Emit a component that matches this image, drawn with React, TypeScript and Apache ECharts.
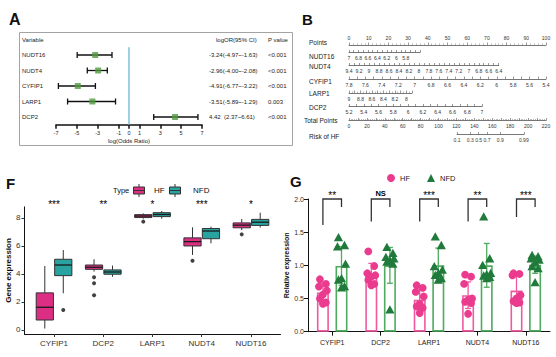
import { useEffect, useRef } from 'react';
import * as echarts from 'echarts';

const FONT = "'Liberation Sans', Arial, Helvetica, sans-serif";

// ---------------- Panel A: forest plot ----------------
const forestVars = ['NUDT16', 'NUDT4', 'CYFIP1', 'LARP1', 'DCP2'];
const forestLogOR = [-3.24, -2.96, -4.91, -3.51, 4.42];
const forestLow = [-4.97, -4.0, -6.77, -5.89, 2.37];
const forestHigh = [-1.63, -2.08, -3.22, -1.29, 6.61];
const forestPValues = ['<0.001', '<0.001', '<0.001', '0.003', '<0.001'];
const forestTicks = [-7, -5, -3, -1, 0, 1, 3, 5, 7];

// ---------------- Panel B: nomogram ----------------
const pointsTicks = [0, 10, 20, 30, 40, 50, 60, 70, 80, 90, 100];
const nudt16Ticks = [7, 6.8, 6.6, 6.4, 6.2, 6, 5.8];
const nudt4Ticks = [9.4, 9.2, 9, 8.8, 8.6, 8.4, 8.2, 8, 7.8, 7.6, 7.4, 7.2, 7, 6.8, 6.6, 6.4];
const cyfip1Ticks = [7.8, 7.6, 7.4, 7.2, 7, 6.8, 6.6, 6.4, 6.2, 6, 5.8, 5.6, 5.4];
const larp1Ticks = [9, 8.8, 8.6, 8.4, 8.2, 8];
const dcp2Ticks = [5.2, 5.4, 5.6, 5.8, 6, 6.2, 6.4, 6.6, 6.8, 7];
const totalPointsTicks = [0, 20, 40, 60, 80, 100, 120, 140, 160, 180, 200, 220];
const riskTicks = [0.1, 0.3, 0.5, 0.7, 0.9, 0.99];
const nomoVarNames = ['NUDT16', 'NUDT4', 'CYFIP1', 'LARP1', 'DCP2'];
const nomoVarTicks = [nudt16Ticks, nudt4Ticks, cyfip1Ticks, larp1Ticks, dcp2Ticks];
const nomoVarMin = [5.5, 6.4, 5.4, 7.9, 5.2];
const nomoVarMax = [7, 9.4, 7.8, 9, 7];
const nomoVarDecreasing = [true, true, true, true, false];
const nomoVarMaxPoints = [36, 76, 100, 32, 67.5];
const totalPointsMax = 220;
const riskTotalPointsRange = [120.7, 195.2];

// ---------------- Panel F: boxplots ----------------
const fGenes = ['CYFIP1', 'DCP2', 'LARP1', 'NUDT4', 'NUDT16'];
const fGroups = ['HF', 'NFD'];
// [min, Q1, median, Q3, max]
const fHFStats = [
  [0.1, 0.71, 1.62, 2.65, 4.57],
  [4.17, 4.33, 4.48, 4.64, 5.05],
  [7.95, 8.03, 8.14, 8.24, 8.33],
  [5.36, 6.0, 6.31, 6.58, 7.33],
  [7.14, 7.3, 7.49, 7.65, 7.93],
];
const fNFDStats = [
  [2.62, 3.88, 4.64, 5.05, 5.71],
  [3.8, 3.98, 4.14, 4.29, 4.6],
  [7.95, 8.1, 8.25, 8.38, 8.5],
  [6.19, 6.52, 7.07, 7.25, 7.38],
  [7.32, 7.47, 7.7, 7.9, 8.38],
];
const fHFOutliers = [[], [3.76, 3.33, 2.48], [7.74], [4.95], [6.83]];
const fNFDOutliers = [[1.43], [], [], [], []];
const fSignif = ['***', '**', '*', '***', '*'];
const fYTicks = [0, 2, 4, 6, 8];

// ---------------- Panel G: bars + dots ----------------
const gGenes = ['CYFIP1', 'DCP2', 'LARP1', 'NUDT4', 'NUDT16'];
const gHFPoints = [
  [0.79, 0.72, 0.68, 0.62, 0.56, 0.5, 0.44, 0.42],
  [1.21, 0.99, 0.88, 0.85, 0.83, 0.78, 0.72, 0.7],
  [0.7, 0.66, 0.6, 0.53, 0.42, 0.38, 0.36, 0.28],
  [0.86, 0.83, 0.72, 0.5, 0.48, 0.45, 0.43, 0.27],
  [0.88, 0.87, 0.85, 0.55, 0.5, 0.46, 0.44, 0.43],
];
const gNFDPoints = [
  [1.42, 1.3, 1.28, 1.02, 0.8, 0.78, 0.68, 0.66],
  [1.27, 1.18, 1.12, 1.1, 1.07, 1.05, 1.02, 0.33],
  [1.43, 1.3, 0.98, 0.93, 0.88, 0.85, 0.8, 0.78],
  [1.73, 1.1, 1.0, 0.88, 0.86, 0.84, 0.82, 0.8],
  [1.15, 1.13, 1.1, 1.08, 1.04, 0.98, 0.95, 0.74],
];
const gHFMean = [0.59, 0.87, 0.48, 0.55, 0.62];
const gHFSD = [0.14, 0.16, 0.15, 0.2, 0.22];
const gNFDMean = [0.99, 1.0, 1.0, 1.0, 1.01];
const gNFDSD = [0.29, 0.27, 0.26, 0.33, 0.13];
const gSignif = ['**', 'NS', '***', '**', '***'];
const gBracketTop = [2.0, 2.0, 2.0, 2.0, 2.0];
const gBracketLeftEnd = [1.61, 1.66, 1.66, 1.66, 1.73];
const gBracketRightEnd = [1.88, 1.88, 1.88, 1.88, 1.88];

// ---------------- styles ----------------
const F_HF = '#dc2f83';
const F_NFD = '#28a39f';
const G_PINK = '#ea3b8e';
const G_PINK_LINE = '#ef5a9f';
const G_GREEN = '#1f7a3c';
const G_GREEN_LINE = '#4fab5f';
const TEXT_DARK = '#222';
const F_DODGE = 0.1875;
const F_HALF = 0.175;
const G_OFF = 9.3;
const JITTER = [-3, 3, -4, 4, 0, -3, 3, 0];

const logit = (p: number) => Math.log(p / (1 - p));
const fmt2 = (v: number) => v.toFixed(2);

function buildOption() {
  const grids: any[] = [];
  const xAxes: any[] = [];
  const yAxes: any[] = [];
  const series: any[] = [];
  const graphics: any[] = [];

  const txt = (text: string, x: number, y: number, size: number, opts: any = {}) => ({
    type: 'text',
    x,
    y,
    silent: true,
    style: {
      text,
      fill: opts.fill || TEXT_DARK,
      font: `${opts.weight || 'normal'} ${size}px ${FONT}`,
      align: opts.align || 'left',
      verticalAlign: 'middle',
    },
  });

  // ===== Panel A =====
  graphics.push({
    type: 'rect',
    shape: { x: 19.5, y: 32.5, width: 273, height: 113 },
    style: { fill: 'none', stroke: '#a3a3a3', lineWidth: 1 },
    silent: true,
  });
  graphics.push(txt('A', 9, 19, 16, { weight: 'bold', fill: '#111' }));
  graphics.push(txt('Variable', 22, 40, 6));
  graphics.push(txt('logOR(95% CI)', 216, 40, 6));
  graphics.push(txt('P value', 268, 40, 6));

  const forestORText = forestLogOR.map((v, i) =>
    v < 0
      ? `${fmt2(v)}(${fmt2(forestLow[i])}~${fmt2(forestHigh[i])})`
      : `${fmt2(v)}  (${fmt2(forestLow[i])}~${fmt2(forestHigh[i])})`
  );

  const gA = grids.length;
  grids.push({ left: 56, top: 47.25, width: 146, height: 77.5 });
  const xA = xAxes.length;
  xAxes.push({
    gridIndex: gA,
    type: 'value',
    min: -7,
    max: 7,
    position: 'bottom',
    axisLine: { show: true, onZero: false, lineStyle: { color: '#111', width: 1.5 } },
    axisTick: { show: true, customValues: forestTicks, length: 4, lineStyle: { color: '#111', width: 1.5 } },
    axisLabel: { customValues: forestTicks, fontSize: 5.5, color: TEXT_DARK, margin: 5, fontFamily: FONT },
    splitLine: { show: false },
    name: 'log(Odds Ratio)',
    nameLocation: 'middle',
    nameGap: 13,
    nameTextStyle: { fontSize: 6, color: TEXT_DARK, fontFamily: FONT },
  });
  const yA = yAxes.length;
  const catLabelAxis = (data: string[], extra: any) => ({
    gridIndex: gA,
    type: 'category',
    inverse: true,
    data,
    axisLine: { show: false },
    axisTick: { show: false },
    splitLine: { show: false },
    ...extra,
  });
  yAxes.push(
    catLabelAxis(forestVars, {
      axisLabel: { align: 'left', margin: 34, fontSize: 6, color: TEXT_DARK, fontFamily: FONT },
    })
  );
  yAxes.push(
    catLabelAxis(forestORText, {
      position: 'right',
      axisLabel: { align: 'left', margin: 7, fontSize: 6, color: TEXT_DARK, fontFamily: FONT },
    })
  );
  yAxes.push(
    catLabelAxis(forestPValues, {
      position: 'right',
      offset: 59,
      axisLabel: { align: 'left', margin: 7, fontSize: 6, color: TEXT_DARK, fontFamily: FONT },
    })
  );

  series.push({
    type: 'custom',
    xAxisIndex: xA,
    yAxisIndex: yA,
    itemStyle: { color: '#111' },
    data: forestVars.map((_, i) => [forestLow[i], forestHigh[i], i]),
    encode: { x: [0, 1], y: 2 },
    renderItem: (_p: any, api: any) => {
      const lo = api.coord([api.value(0), api.value(2)]);
      const hi = api.coord([api.value(1), api.value(2)]);
      const h = 3;
      const st = { stroke: '#111', lineWidth: 1.3 };
      return {
        type: 'group',
        children: [
          { type: 'line', shape: { x1: lo[0], y1: lo[1], x2: hi[0], y2: hi[1] }, style: st },
          { type: 'line', shape: { x1: lo[0], y1: lo[1] - h, x2: lo[0], y2: lo[1] + h }, style: st },
          { type: 'line', shape: { x1: hi[0], y1: hi[1] - h, x2: hi[0], y2: hi[1] + h }, style: st },
        ],
      };
    },
  });
  series.push({
    type: 'scatter',
    xAxisIndex: xA,
    yAxisIndex: yA,
    symbol: 'rect',
    symbolSize: 6,
    itemStyle: { color: '#4f9b3f' },
    data: forestLogOR.map((v, i) => [v, i]),
    z: 5,
    markLine: {
      silent: true,
      symbol: 'none',
      label: { show: false },
      lineStyle: { color: '#7cc1d8', width: 1.5, type: 'solid' },
      data: [{ xAxis: 0 }],
    },
  });

  // ===== Panel B: nomogram =====
  graphics.push(txt('B', 302, 19, 15, { weight: 'bold', fill: '#111' }));
  const NOMO_LEFT = 349;
  const NOMO_WIDTH = 197;
  const pxPerPoint = NOMO_WIDTH / 100;
  const pxPerTotal = NOMO_WIDTH / totalPointsMax;
  const nomoVarLineY = [52.5, 65.5, 79, 93, 106.5];
  const nomoNameX = [309, 309, 309, 309, 309, 309, 304, 309];
  const nomoNameY = [42, 56, 66.5, 81, 93, 107.5, 120.5, 136];
  const nomoNames = ['Points', ...nomoVarNames, 'Total Points', 'Risk of HF'];
  nomoNames.forEach((n, i) => graphics.push(txt(n, nomoNameX[i], nomoNameY[i], 6.5)));

  const lineStyle = { color: '#555', width: 0.8 };
  const addNomoAxis = (c: any) => {
    const gi = grids.length;
    const top = c.position === 'top' ? c.lineY : c.lineY - 1;
    grids.push({ left: c.left, width: c.width, top, height: 1 });
    xAxes.push({
      gridIndex: gi,
      type: 'value',
      min: c.min,
      max: c.max,
      interval: c.interval,
      inverse: !!c.inverse,
      position: c.position,
      axisLine: { show: true, onZero: false, lineStyle },
      axisTick: {
        show: true,
        inside: c.position === 'bottom',
        length: 2.5,
        customValues: c.tickValues,
        lineStyle: { color: '#555', width: 0.6 },
      },
      minorTick: {
        show: !!c.minorSplit,
        splitNumber: c.minorSplit || 5,
        length: 1.5,
        lineStyle: { color: '#777', width: 0.5 },
      },
      axisLabel: {
        customValues: c.labels,
        formatter: c.formatter,
        fontSize: 5,
        color: '#333',
        margin: c.position === 'top' ? 5 : 3,
        fontFamily: FONT,
      },
      splitLine: { show: false },
      minorSplitLine: { show: false },
    });
    yAxes.push({ gridIndex: gi, type: 'value', show: false, min: 0, max: 1 });
  };

  addNomoAxis({
    lineY: 45,
    left: NOMO_LEFT,
    width: NOMO_WIDTH,
    min: 0,
    max: 100,
    interval: 10,
    position: 'top',
    labels: pointsTicks,
    minorSplit: 5,
  });
  nomoVarNames.forEach((_, i) => {
    addNomoAxis({
      lineY: nomoVarLineY[i],
      left: NOMO_LEFT,
      width: nomoVarMaxPoints[i] * pxPerPoint,
      min: nomoVarMin[i],
      max: nomoVarMax[i],
      interval: 0.1,
      inverse: nomoVarDecreasing[i],
      position: 'bottom',
      labels: nomoVarTicks[i],
      minorSplit: i === 3 ? 2 : 0,
    });
  });
  addNomoAxis({
    lineY: 120.5,
    left: NOMO_LEFT,
    width: totalPointsMax * pxPerTotal,
    min: 0,
    max: totalPointsMax,
    interval: 10,
    position: 'bottom',
    labels: totalPointsTicks,
    minorSplit: 5,
  });
  const riskLogits = riskTicks.map(logit);
  addNomoAxis({
    lineY: 134.5,
    left: NOMO_LEFT + riskTotalPointsRange[0] * pxPerTotal,
    width: (riskTotalPointsRange[1] - riskTotalPointsRange[0]) * pxPerTotal,
    min: riskLogits[0],
    max: riskLogits[riskLogits.length - 1],
    position: 'bottom',
    labels: riskLogits,
    tickValues: riskLogits,
    formatter: (v: number) => {
      const k = riskLogits.findIndex((l) => Math.abs(l - v) < 1e-6);
      return k >= 0 ? String(riskTicks[k]) : '';
    },
  });

  // ===== Panel F: boxplots =====
  graphics.push(txt('F', 6, 183, 15, { weight: 'bold', fill: '#111' }));
  graphics.push(txt('Type', 113, 190, 7.5, { fill: '#111' }));
  graphics.push(txt(fGroups[0], 154, 190, 8, { fill: '#111' }));
  graphics.push(txt(fGroups[1], 193, 190, 8, { fill: '#111' }));
  const gF = grids.length;
  grids.push({ left: 24.5, top: 206.8, width: 256, height: 127.2 });
  const xF = xAxes.length;
  const fCatPos = fGenes.map((_, i) => i + 1);
  xAxes.push({
    gridIndex: gF,
    type: 'value',
    min: 0.4,
    max: 5.6,
    axisLine: { show: true, onZero: false, lineStyle: { color: '#111', width: 1 } },
    axisTick: { show: true, customValues: fCatPos, length: 3, lineStyle: { color: '#333' } },
    axisLabel: {
      customValues: fCatPos,
      formatter: (v: number) => fGenes[Math.round(v) - 1],
      fontSize: 8,
      color: '#333',
      margin: 5,
      fontFamily: FONT,
    },
    splitLine: { show: false },
  });
  const yF = yAxes.length;
  yAxes.push({
    gridIndex: gF,
    type: 'value',
    min: -0.29,
    max: 8.8,
    axisLine: { show: true, onZero: false, lineStyle: { color: '#111', width: 1 } },
    axisTick: { show: true, customValues: fYTicks, length: 3, lineStyle: { color: '#333' } },
    axisLabel: { customValues: fYTicks, fontSize: 8, color: '#333', margin: 4, fontFamily: FONT },
    splitLine: { show: false },
    name: 'Gene expression',
    nameLocation: 'middle',
    nameGap: 10,
    nameTextStyle: { fontSize: 8, fontWeight: 'bold', color: '#111', fontFamily: FONT },
  });

  const boxSeries = (name: string, stats: number[][], side: number, color: string) => ({
    type: 'custom',
    name,
    xAxisIndex: xF,
    yAxisIndex: yF,
    itemStyle: { color },
    data: stats.map((s, i) => [i + 1, ...s]),
    encode: { x: 0, y: [1, 5] },
    renderItem: (_p: any, api: any) => {
      const c = api.value(0) + side * F_DODGE;
      const xl = api.coord([c - F_HALF, 0])[0];
      const xr = api.coord([c + F_HALF, 0])[0];
      const xm = (xl + xr) / 2;
      const y = (k: number) => api.coord([c, api.value(k)])[1];
      const yMin = y(1);
      const yQ1 = y(2);
      const yMed = y(3);
      const yQ3 = y(4);
      const yMax = y(5);
      const wst = { stroke: '#333', lineWidth: 1 };
      return {
        type: 'group',
        children: [
          { type: 'line', shape: { x1: xm, y1: yMax, x2: xm, y2: yQ3 }, style: wst },
          { type: 'line', shape: { x1: xm, y1: yQ1, x2: xm, y2: yMin }, style: wst },
          {
            type: 'rect',
            shape: { x: xl, y: yQ3, width: xr - xl, height: Math.max(yQ1 - yQ3, 0.5) },
            style: { fill: color, stroke: '#333', lineWidth: 1 },
          },
          { type: 'line', shape: { x1: xl, y1: yMed, x2: xr, y2: yMed }, style: { stroke: '#1a1a1a', lineWidth: 1.3 } },
        ],
      };
    },
  });
  series.push(boxSeries(fGroups[0], fHFStats, -1, F_HF));
  series.push(boxSeries(fGroups[1], fNFDStats, 1, F_NFD));
  const outlierSeries = (outs: number[][], side: number) => ({
    type: 'scatter',
    xAxisIndex: xF,
    yAxisIndex: yF,
    symbolSize: 4,
    itemStyle: { color: '#111' },
    data: outs.flatMap((arr, i) => arr.map((v) => [i + 1 + side * F_DODGE, v])),
    z: 4,
  });
  series.push(outlierSeries(fHFOutliers, -1));
  series.push(outlierSeries(fNFDOutliers, 1));
  series.push({
    type: 'custom',
    xAxisIndex: xF,
    yAxisIndex: yF,
    itemStyle: { color: '#000' },
    data: fSignif.map((_, i) => [i + 1, 0]),
    renderItem: (params: any, api: any) => {
      const x = api.coord([api.value(0), 0])[0];
      return {
        type: 'text',
        x,
        y: params.coordSys.y - 2,
        style: {
          text: fSignif[params.dataIndex],
          fill: '#000',
          font: `normal 10px ${FONT}`,
          align: 'center',
          verticalAlign: 'middle',
        },
      };
    },
  });

  // ===== Panel G =====
  graphics.push(txt('G', 290, 181, 15, { weight: 'bold', fill: '#111' }));
  const gG = grids.length;
  grids.push({ left: 308, top: 199, width: 242, height: 132.7 });
  const xG = xAxes.length;
  xAxes.push({
    gridIndex: gG,
    type: 'category',
    data: gGenes,
    axisLine: { show: true, lineStyle: { color: '#111', width: 1 } },
    axisTick: { show: true, alignWithLabel: true, length: 4, lineStyle: { color: '#111' } },
    axisLabel: { fontSize: 7, color: TEXT_DARK, margin: 7, fontFamily: FONT, interval: 0 },
  });
  const yG = yAxes.length;
  yAxes.push({
    gridIndex: gG,
    type: 'value',
    min: 0,
    max: 2,
    interval: 0.5,
    axisLine: { show: true, lineStyle: { color: '#111', width: 1 } },
    axisTick: { show: true, length: 4, lineStyle: { color: '#111' } },
    axisLabel: { fontSize: 7, color: '#333', margin: 4, fontFamily: FONT, formatter: (v: number) => v.toFixed(1) },
    splitLine: { show: false },
    name: 'Relative expression',
    nameLocation: 'middle',
    nameGap: 17,
    nameTextStyle: { fontSize: 7, fontWeight: 'bold', color: '#111', fontFamily: FONT },
  });

  const barSeries = (name: string, means: number[], color: string) => ({
    type: 'bar',
    name,
    xAxisIndex: xG,
    yAxisIndex: yG,
    data: means,
    barWidth: 12,
    barGap: '55%',
    itemStyle: { color: 'rgba(255,255,255,0)', borderColor: color, borderWidth: 1.6 },
    z: 2,
  });
  series.push(barSeries('HF', gHFMean, G_PINK_LINE));
  series.push(barSeries('NFD', gNFDMean, G_GREEN_LINE));

  const errSeries = (means: number[], sds: number[], side: number, color: string) => ({
    type: 'custom',
    xAxisIndex: xG,
    yAxisIndex: yG,
    z: 3,
    itemStyle: { color },
    data: means.map((m, i) => [i, m, sds[i]]),
    encode: { x: 0, y: 1 },
    renderItem: (_p: any, api: any) => {
      const i = api.value(0);
      const m = api.value(1);
      const sd = api.value(2);
      const top = api.coord([i, m + sd]);
      const bot = api.coord([i, m - sd]);
      const x = top[0] + side * G_OFF;
      const cap = 3;
      const st = { stroke: color, lineWidth: 1.3 };
      return {
        type: 'group',
        children: [
          { type: 'line', shape: { x1: x, y1: top[1], x2: x, y2: bot[1] }, style: st },
          { type: 'line', shape: { x1: x - cap, y1: top[1], x2: x + cap, y2: top[1] }, style: st },
          { type: 'line', shape: { x1: x - cap, y1: bot[1], x2: x + cap, y2: bot[1] }, style: st },
        ],
      };
    },
  });
  series.push(errSeries(gHFMean, gHFSD, -1, G_PINK_LINE));
  series.push(errSeries(gNFDMean, gNFDSD, 1, G_GREEN_LINE));

  const dotSeries = (name: string, pts: number[][], side: number, color: string, tri: boolean) => ({
    type: 'custom',
    name,
    xAxisIndex: xG,
    yAxisIndex: yG,
    z: 5,
    itemStyle: { color },
    data: pts.flatMap((arr, i) => arr.map((v, k) => [i, v, k])),
    encode: { x: 0, y: 1 },
    renderItem: (_p: any, api: any) => {
      const p = api.coord([api.value(0), api.value(1)]);
      const x = p[0] + side * G_OFF + JITTER[api.value(2) % JITTER.length];
      const y = p[1];
      if (tri) {
        const s = 4.6;
        return {
          type: 'polygon',
          shape: { points: [[x, y - s], [x + s, y + s * 0.8], [x - s, y + s * 0.8]] },
          style: { fill: color },
        };
      }
      return { type: 'circle', shape: { cx: x, cy: y, r: 3.9 }, style: { fill: color } };
    },
  });
  series.push(dotSeries('HF', gHFPoints, -1, G_PINK, false));
  series.push(dotSeries('NFD', gNFDPoints, 1, G_GREEN, true));

  series.push({
    type: 'custom',
    xAxisIndex: xG,
    yAxisIndex: yG,
    z: 6,
    itemStyle: { color: '#000' },
    data: gGenes.map((_, i) => [i, gBracketTop[i], gBracketLeftEnd[i], gBracketRightEnd[i]]),
    encode: { x: 0, y: 1 },
    renderItem: (params: any, api: any) => {
      const i = api.value(0);
      const topY = api.coord([i, api.value(1)])[1];
      const lY = api.coord([i, api.value(2)])[1];
      const rY = api.coord([i, api.value(3)])[1];
      const cx = api.coord([i, 0])[0];
      const xl = cx - G_OFF;
      const xr = cx + G_OFF;
      const label = gSignif[params.dataIndex];
      const isNS = label === 'NS';
      return {
        type: 'group',
        children: [
          {
            type: 'polyline',
            shape: { points: [[xl, lY], [xl, topY], [xr, topY], [xr, rY]] },
            style: { stroke: '#333', lineWidth: 1.3, fill: 'none' },
          },
          {
            type: 'text',
            x: cx,
            y: topY - (isNS ? 6 : 4),
            style: {
              text: label,
              fill: '#000',
              font: `${isNS ? 'bold 7.5px' : 'normal 10px'} ${FONT}`,
              align: 'center',
              verticalAlign: 'middle',
            },
          },
        ],
      };
    },
  });

  const boxIcon = 'path://M5.5,0 L5.5,3 M0,3 L11,3 L11,10 L0,10 Z M0,6.5 L11,6.5 M5.5,10 L5.5,13';

  return {
    animation: false,
    backgroundColor: '#fff',
    textStyle: { fontFamily: FONT },
    grid: grids,
    xAxis: xAxes,
    yAxis: yAxes,
    series,
    graphic: graphics,
    legend: [
      {
        left: 133,
        top: 183.5,
        padding: 0,
        itemWidth: 11,
        itemHeight: 13,
        itemGap: 24,
        selectedMode: false,
        formatter: () => '',
        data: [
          { name: fGroups[0], icon: boxIcon, itemStyle: { color: F_HF, borderColor: '#333', borderWidth: 1 } },
          { name: fGroups[1], icon: boxIcon, itemStyle: { color: F_NFD, borderColor: '#333', borderWidth: 1 } },
        ],
      },
      {
        left: 387,
        top: 174,
        padding: 0,
        itemWidth: 8,
        itemHeight: 8,
        itemGap: 17,
        selectedMode: false,
        textStyle: { fontSize: 7.5, color: TEXT_DARK, fontFamily: FONT },
        data: [
          { name: 'HF', icon: 'circle', itemStyle: { color: G_PINK } },
          { name: 'NFD', icon: 'triangle', itemStyle: { color: G_GREEN } },
        ],
      },
    ],
  };
}

export default function App() {
  const ref = useRef<HTMLDivElement>(null);
  useEffect(() => {
    if (!ref.current) return;
    const chart = echarts.init(ref.current, null, { renderer: 'svg' });
    chart.setOption(buildOption() as any);
    return () => chart.dispose();
  }, []);
  return (
    <div
      ref={ref}
      style={{ position: 'absolute', left: 0, top: 0, width: 556, height: 357, background: '#fff' }}
    />
  );
}
